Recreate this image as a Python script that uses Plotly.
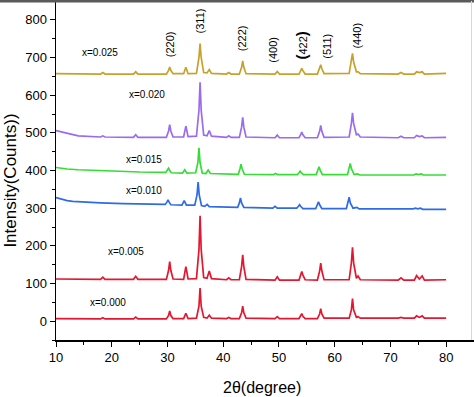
import plotly.graph_objects as go

# ---------------- data ----------------
two_theta = [10, 14, 18.0, 18.4, 18.8, 23.9, 24.3, 24.7, 29.8, 30.2, 30.4, 30.6, 31.0,
             32.9, 33.3, 33.7, 35.2, 35.65, 35.85, 36.05, 36.5, 37.1, 37.5, 37.9,
             40.6, 41.0, 41.4, 42.9, 43.3, 43.5, 43.7, 44.1, 49.3, 49.7, 50.1,
             53.6, 53.9, 54.1, 54.3, 54.7, 56.9, 57.3, 57.5, 57.7, 58.1,
             62.6, 63.0, 63.2, 63.4, 63.9, 64.2, 64.6, 71.4, 71.9, 72.4,
             74.3, 74.7, 75.2, 75.7, 76.1, 80]

int_000 = [7, 6, 6, 9, 6, 6, 11, 6, 6, 15, 27, 15, 7,
           7, 21, 7, 8, 40, 88, 40, 10, 8, 16, 8,
           7, 10, 7, 7, 22, 40, 22, 8, 7, 12, 7,
           7, 13, 20, 13, 7, 7, 19, 33, 19, 8,
           8, 30, 60, 30, 10, 12, 8, 8, 10, 8,
           8, 14, 10, 14, 8, 8]

int_005 = [112, 111, 111, 117, 111, 111, 119, 111, 111, 135, 158, 135, 112,
           111, 145, 112, 113, 190, 280, 190, 116, 114, 133, 113,
           110, 115, 110, 110, 145, 176, 145, 111, 109, 118, 109,
           109, 122, 132, 122, 110, 109, 133, 154, 133, 110,
           110, 155, 196, 155, 114, 120, 110, 109, 115, 109,
           109, 121, 112, 120, 109, 110]

int_020 = [506, 492, 489, 492, 489, 488, 495, 488, 488, 505, 522, 505, 489,
           489, 518, 490, 491, 560, 634, 560, 494, 492, 506, 491,
           488, 492, 488, 488, 515, 541, 515, 489, 487, 494, 487,
           487, 495, 502, 495, 487, 487, 504, 520, 504, 488,
           489, 525, 553, 525, 495, 497, 489, 487, 491, 487,
           487, 493, 490, 492, 487, 488]

int_025 = [657, 656, 656, 660, 656, 656, 662, 656, 656, 666, 675, 666, 657,
           657, 674, 657, 658, 700, 737, 700, 660, 659, 668, 658,
           656, 660, 656, 656, 674, 691, 674, 657, 656, 663, 656,
           656, 665, 671, 665, 656, 656, 670, 681, 670, 657,
           658, 688, 711, 688, 662, 662, 657, 656, 660, 656,
           656, 662, 660, 662, 656, 658]

two_theta_010 = [10, 10.5, 11, 12, 13, 15, 18, 22, 26, 29.6, 29.9, 30.1, 30.3, 30.6,
                 32.6, 33.0, 33.4, 34.9, 35.3, 35.5, 35.7, 36.1, 36.7, 37.1, 37.5,
                 42.6, 42.9, 43.1, 43.3, 43.7, 48.9, 49.3, 49.7,
                 53.2, 53.5, 53.7, 53.9, 54.3, 56.6, 56.9, 57.1, 57.3, 57.7,
                 62.1, 62.4, 62.6, 62.8, 63.3, 64.0, 64.4,
                 74.1, 74.5, 74.9, 75.4, 75.8, 80]
int_010 = [328, 326, 322, 320, 318, 316, 314, 312, 311, 310, 316, 322, 316, 309,
           308, 320, 308, 308, 335, 369, 335, 307, 305, 310, 304,
           302, 314, 327, 314, 302, 300, 305, 300,
           300, 305, 309, 305, 299, 299, 309, 317, 309, 299,
           299, 314, 329, 314, 300, 302, 298,
           298, 300, 298, 300, 297, 297]

two_theta_015 = [10, 11, 12, 14, 17, 20, 25, 29.7, 30.0, 30.2, 30.4, 30.7,
                 32.7, 33.1, 33.5, 35.05, 35.45, 35.65, 35.85, 36.25, 36.9, 37.3, 37.7,
                 42.7, 43.0, 43.2, 43.4, 43.8, 49.0, 49.4, 49.8,
                 53.3, 53.6, 53.8, 54.0, 54.4, 56.7, 57.0, 57.2, 57.4, 57.8,
                 62.3, 62.6, 62.8, 63.0, 63.5, 64.1, 64.5,
                 74.2, 74.6, 75.0, 75.5, 75.9, 80]
int_015 = [408, 405, 404, 402, 400, 398, 396, 395, 400, 406, 400, 394,
           393, 402, 393, 394, 420, 460, 420, 393, 392, 401, 392,
           390, 404, 417, 404, 390, 389, 392, 389,
           389, 394, 398, 394, 389, 389, 401, 410, 401, 389,
           389, 405, 419, 405, 389, 391, 388,
           388, 391, 389, 391, 388, 388]

series_names = ["x=0.000", "x=0.005", "x=0.010", "x=0.015", "x=0.020", "x=0.025"]
series_colors = ["#E5162F", "#E5162F", "#2F6BE6", "#35DD35", "#9A6BEE", "#C9A12A"]

label_x = [19.4, 22.6, 25.7, 25.7, 26.3, 17.9]
label_y = [50, 185, 347, 429, 601, 713]

hkl_labels = ["(220)", "(311)", "(222)", "(400)",
              "<b><span style='font-size:15px'>(</span></b>422<b><span style='font-size:15px'>)</span></b>",
              "(511)", "(440)"]
hkl_x = [30.5, 35.85, 43.3, 48.9, 54.1, 58.6, 64.0]
hkl_y = [736, 796, 750, 720, 731, 731, 758]

x_ticks = [10, 20, 30, 40, 50, 60, 70, 80]
y_ticks = [0, 100, 200, 300, 400, 500, 600, 700, 800]

# ---------------- figure ----------------
FONT = "Liberation Sans, Arial, Helvetica, sans-serif"
fig = go.Figure()

xs = [two_theta, two_theta, two_theta_010, two_theta_015, two_theta, two_theta]
ys = [int_000, int_005, int_010, int_015, int_020, int_025]
for name, color, xv, yv in zip(series_names, series_colors, xs, ys):
    fig.add_trace(go.Scatter(x=xv, y=yv, mode="lines", name=name,
                             line=dict(color=color, width=1.7), showlegend=False,
                             hoverinfo="skip"))

for name, lx, ly in zip(series_names, label_x, label_y):
    fig.add_annotation(x=lx, y=ly, text=name, showarrow=False,
                       font=dict(family=FONT, size=10, color="black"))

for t, hx, hy in zip(hkl_labels, hkl_x, hkl_y):
    fig.add_annotation(x=hx, y=hy, text=t, showarrow=False, textangle=-90,
                       font=dict(family=FONT, size=11, color="black"))

# axis titles
fig.add_annotation(xref="paper", yref="paper", x=-0.111, y=0.469,
                   text="Intensity(Counts))", textangle=-90, showarrow=False,
                   font=dict(family=FONT, size=17, color="black"),
                   xanchor="center", yanchor="middle")
fig.add_annotation(xref="paper", yref="paper", x=0.494, y=-0.139,
                   text="2θ(degree)", showarrow=False,
                   font=dict(family=FONT, size=16, color="black"),
                   xanchor="center", yanchor="middle")

# frame decorations
fig.add_shape(type="line", xref="paper", yref="paper", x0=-0.14, x1=1.0, y0=1.0, y1=1.0,
              line=dict(color="#5a5a5a", width=3))
fig.add_shape(type="line", xref="paper", yref="paper", x0=0.994, x1=0.994, y0=0, y1=1,
              line=dict(color="#d8d8d8", width=1))

fig.update_layout(
    width=474, height=397,
    margin=dict(l=56, r=0, t=1, b=57),
    paper_bgcolor="white", plot_bgcolor="white",
    font=dict(family=FONT, size=13, color="black"),
    xaxis=dict(range=[10, 85], tickvals=x_ticks, ticks="outside", ticklen=5,
               tickcolor="black", showline=True, linecolor="black", linewidth=1.5,
               showgrid=False, zeroline=False,
               minor=dict(dtick=5, tick0=5, ticks="outside", ticklen=3, tickcolor="black"),
               tickfont=dict(family=FONT, size=13)),
    yaxis=dict(range=[-50, 850], tickvals=y_ticks, ticks="outside", ticklen=5,
               tickcolor="black", showline=True, linecolor="black", linewidth=1.5,
               showgrid=False, zeroline=False,
               minor=dict(dtick=50, tick0=-50, ticks="outside", ticklen=3, tickcolor="black"),
               tickfont=dict(family=FONT, size=13)),
)

fig.write_html("out.html", config={"displayModeBar": False, "staticPlot": True})

# remove the browser's default page margin so the figure sits at the window origin
with open("out.html", "r", encoding="utf-8") as f:
    html = f.read()
html = html.replace("<head>", "<head><style>html,body{margin:0;padding:0;overflow:hidden;}</style>", 1)
with open("out.html", "w", encoding="utf-8") as f:
    f.write(html)
